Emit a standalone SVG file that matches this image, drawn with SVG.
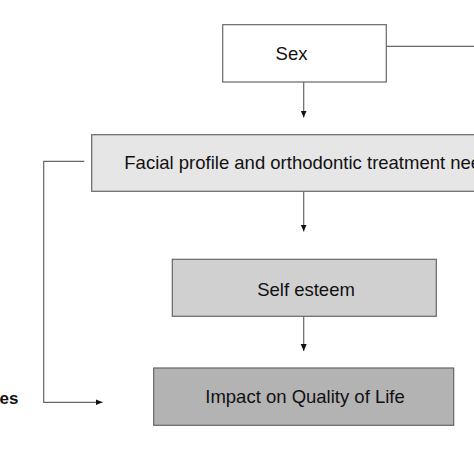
<svg xmlns="http://www.w3.org/2000/svg" width="474" height="474" viewBox="0 0 474 474">
<style>
.box{stroke:#666;stroke-width:1.2}
.lbl{font-family:"Liberation Sans",Arial,sans-serif;font-size:18.5px;fill:#111;text-anchor:middle}
.con{fill:none;stroke:#666;stroke-width:1.2}
</style>
<defs>
<marker id="ah" markerWidth="8" markerHeight="8" refX="7" refY="3" orient="auto" markerUnits="userSpaceOnUse">
<path d="M0,0 L7,3 L0,6 Z" fill="#111"/>
</marker>
</defs>
<rect width="474" height="474" fill="#fff"/>
<g id="connectors">
<path class="con" d="M386.3,46.3 H474"/>
<path class="con" d="M303.7,82 V117.5" marker-end="url(#ah)"/>
<path class="con" d="M303.7,191.3 V231.5" marker-end="url(#ah)"/>
<path class="con" d="M303.7,316.3 V351" marker-end="url(#ah)"/>
<path class="con" d="M84.3,161.3 H43.7 V402.3 H102.5" marker-end="url(#ah)"/>
</g>
<g id="sex">
<rect class="box" x="222.7" y="24.7" width="163.6" height="57.3" fill="#fff"/>
<text class="lbl" x="291.5" y="60">Sex</text>
</g>
<g id="facial">
<rect class="box" x="91.7" y="134.7" width="400" height="56.6" fill="#e6e6e6"/>
<text class="lbl" x="124.3" y="168.5" style="text-anchor:start">Facial profile and orthodontic treatment need</text>
</g>
<g id="self">
<rect class="box" x="172.3" y="259.3" width="264" height="57" fill="#d0d0d0"/>
<text class="lbl" x="306" y="295.5">Self esteem</text>
</g>
<g id="impact">
<rect class="box" x="153.7" y="368" width="300" height="57.3" fill="#b3b3b3"/>
<text class="lbl" x="305" y="403">Impact on Quality of Life</text>
</g>
<g id="left">
<text x="18.5" y="404" style="font-family:'Liberation Sans',Arial,sans-serif;font-size:17px;font-weight:bold;text-anchor:end;fill:#111">es</text>
</g>
</svg>
